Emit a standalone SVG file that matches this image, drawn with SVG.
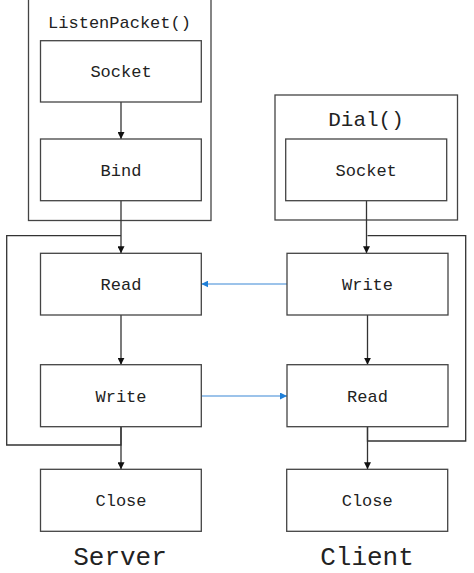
<svg xmlns="http://www.w3.org/2000/svg" width="474" height="573" viewBox="0 0 474 573">
<style>
.box{fill:#fff;stroke:#444;stroke-width:1.3}
.cont{fill:none;stroke:#444;stroke-width:1.3}
.lbl{font-family:"Liberation Mono",monospace;font-size:17px;fill:#222;text-anchor:middle}
.ttl{font-family:"Liberation Mono",monospace;fill:#222;text-anchor:middle}
.ln{fill:none;stroke:#333;stroke-width:1.3}
.bl{fill:none;stroke:#3b88d6;stroke-width:1.2}
</style>
<defs>
<marker id="ah" viewBox="0 0 10 10" refX="10" refY="5" markerWidth="7" markerHeight="7" orient="auto" markerUnits="userSpaceOnUse"><path d="M0,0 L10,5 L0,10 Z" fill="#111"/></marker>
<marker id="ahb" viewBox="0 0 10 10" refX="10" refY="5" markerWidth="7" markerHeight="7" orient="auto" markerUnits="userSpaceOnUse"><path d="M0,0 L10,5 L0,10 Z" fill="#1f7fd8"/></marker>
</defs>
<rect id="bg" x="0" y="0" width="474" height="573" fill="#fff"/>
<g id="listenpacket">
<rect class="cont" x="28.5" y="-10" width="182.5" height="230.5"/>
<text class="ttl" x="119.5" y="27.5" font-size="17">ListenPacket()</text>
</g>
<g id="dial">
<rect class="cont" x="275" y="95" width="182.5" height="125"/>
<text class="ttl" x="366" y="126" font-size="21">Dial()</text>
</g>
<g id="connectors">
<path class="ln" d="M121,102 V139" marker-end="url(#ah)"/>
<path class="ln" d="M121,200.7 V253.3" marker-end="url(#ah)"/>
<path class="ln" d="M121,426.7 V445 H6.7 V235.7 H121"/>
<path class="ln" d="M121,315 V364.7" marker-end="url(#ah)"/>
<path class="ln" d="M121,426.7 V469.3" marker-end="url(#ah)"/>
<path class="ln" d="M366.5,200.7 V253.3" marker-end="url(#ah)"/>
<path class="ln" d="M367.5,426.7 V441 H465.7 V235.7 H367.5"/>
<path class="ln" d="M367.5,315 V364.7" marker-end="url(#ah)"/>
<path class="ln" d="M367.5,426.7 V469.3" marker-end="url(#ah)"/>
<path class="bl" d="M287,284 H201.3" marker-end="url(#ahb)"/>
<path class="bl" d="M201.3,396 H287" marker-end="url(#ahb)"/>
</g>
<g id="server-socket"><rect class="box" x="40.5" y="40.7" width="160.8" height="61.3"/><text class="lbl" x="121" y="77">Socket</text></g>
<g id="server-bind"><rect class="box" x="40.5" y="139" width="160.8" height="61.7"/><text class="lbl" x="121" y="175.5">Bind</text></g>
<g id="server-read"><rect class="box" x="40.5" y="253.3" width="160.8" height="61.7"/><text class="lbl" x="121" y="290">Read</text></g>
<g id="server-write"><rect class="box" x="40.5" y="364.7" width="160.8" height="62"/><text class="lbl" x="121" y="401.5">Write</text></g>
<g id="server-close"><rect class="box" x="40.5" y="469.3" width="160.8" height="62"/><text class="lbl" x="121" y="506">Close</text></g>
<g id="client-socket"><rect class="box" x="285.7" y="139" width="161" height="61.7"/><text class="lbl" x="366.2" y="175.5">Socket</text></g>
<g id="client-write"><rect class="box" x="287" y="253.3" width="161" height="61.7"/><text class="lbl" x="367.5" y="290">Write</text></g>
<g id="client-read"><rect class="box" x="287" y="364.7" width="161" height="62"/><text class="lbl" x="367.5" y="401.5">Read</text></g>
<g id="client-close"><rect class="box" x="286.7" y="469.3" width="161" height="62"/><text class="lbl" x="367.2" y="506">Close</text></g>
<g id="labels">
<text class="ttl" x="120" y="565" font-size="26">Server</text>
<text class="ttl" x="367" y="565" font-size="26">Client</text>
</g>
</svg>
